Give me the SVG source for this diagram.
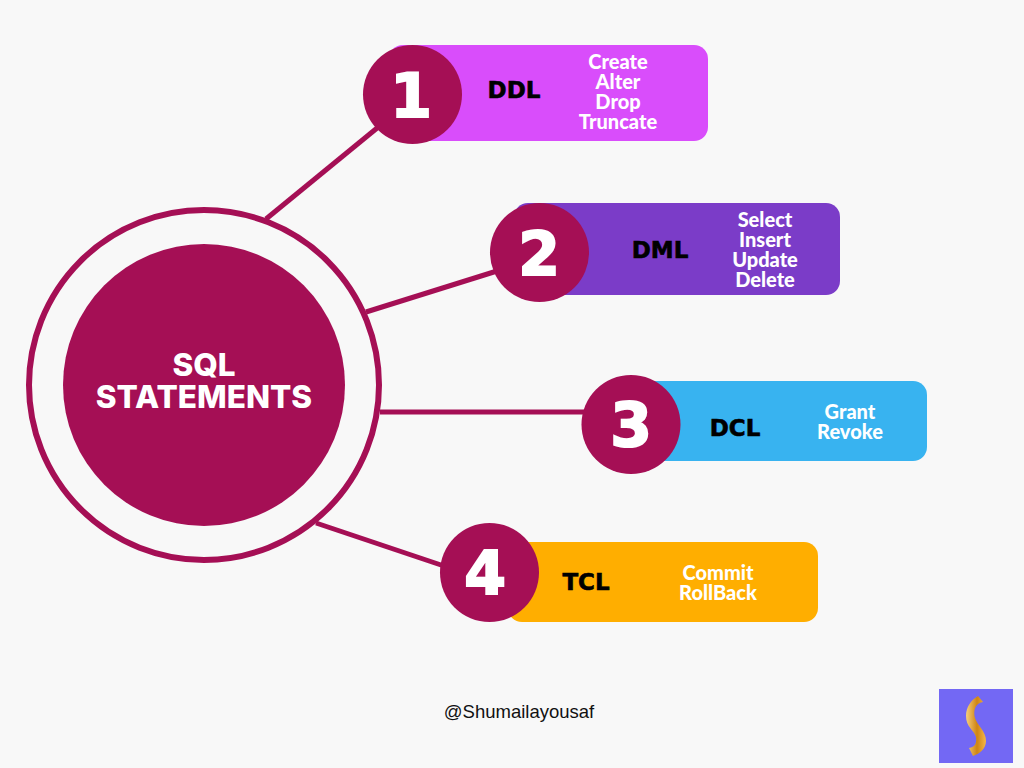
<svg xmlns="http://www.w3.org/2000/svg" width="1024" height="768" viewBox="0 0 1024 768">
<defs>
<linearGradient id="s" x1="0" y1="0" x2="1" y2="0"><stop offset="0" stop-color="#f6cf7c"/><stop offset="0.55" stop-color="#cf8514"/><stop offset="1" stop-color="#f5b748"/></linearGradient>
</defs>
<style>
.c{fill:#a50f55}
.l{stroke:#a50f55;stroke-width:5;fill:none}
.n{font-family:"DejaVu Sans",sans-serif;font-weight:700;font-size:60px;fill:#fff;stroke:#fff;stroke-width:2;text-anchor:middle}
.h{font-family:"DejaVu Sans",sans-serif;font-weight:700;font-size:23px;fill:#000;stroke:#000;stroke-width:.6;text-anchor:middle}
.t{font-family:"Lato","Open Sans",sans-serif;font-weight:900;font-size:20px;fill:#fff;text-anchor:middle}
.m{font-family:"Inter","Liberation Sans",sans-serif;font-weight:800;font-size:31.500px;fill:#fff;text-anchor:middle}
</style>
<rect width="1024" height="768" fill="#f8f8f8"/>
<g id="connectors">
<line class="l" x1="266" y1="219" x2="382" y2="124"/>
<line class="l" x1="366" y1="312" x2="497" y2="271"/>
<line class="l" x1="380" y1="412" x2="585" y2="412"/>
<line class="l" x1="316" y1="523" x2="444" y2="566"/>
</g>
<g id="center">
<circle cx="204" cy="385" r="175" fill="none" stroke="#a50f55" stroke-width="6"/>
<circle class="c" cx="204" cy="385" r="141"/>
<text class="m" x="204" y="376">SQL</text>
<text class="m" x="204" y="408">STATEMENTS</text>
</g>
<g id="node1">
<rect x="389" y="45" width="319" height="96" rx="14" fill="#d94dfb"/>
<circle class="c" cx="412.500" cy="94.500" r="49.500"/>
<text class="n" x="411" y="117">1</text>
<text class="h" x="514" y="98">DDL</text>
<text class="t" x="618" y="69">Create</text><text class="t" x="618" y="89">Alter</text><text class="t" x="618" y="109">Drop</text><text class="t" x="618" y="129">Truncate</text>
</g>
<g id="node2">
<rect x="514" y="203" width="326" height="92" rx="14" fill="#7b3cc8"/>
<circle class="c" cx="539.500" cy="252.500" r="49.500"/>
<text class="n" x="539" y="275">2</text>
<text class="h" x="660" y="258">DML</text>
<text class="t" x="765" y="227">Select</text><text class="t" x="765" y="247">Insert</text><text class="t" x="765" y="267">Update</text><text class="t" x="765" y="287">Delete</text>
</g>
<g id="node3">
<rect x="640" y="381" width="287" height="80" rx="14" fill="#38b3f0"/>
<circle class="c" cx="631" cy="424.500" r="49.500"/>
<text class="n" x="631" y="446">3</text>
<text class="h" x="735" y="436">DCL</text>
<text class="t" x="850" y="419">Grant</text><text class="t" x="850" y="439">Revoke</text>
</g>
<g id="node4">
<rect x="508" y="542" width="310" height="80" rx="14" fill="#ffae00"/>
<circle class="c" cx="489.500" cy="572.500" r="49.500"/>
<text class="n" x="485" y="594">4</text>
<text class="h" x="586" y="590">TCL</text>
<text class="t" x="718" y="580">Commit</text><text class="t" x="718" y="600">RollBack</text>
</g>
<text x="519" y="718" text-anchor="middle" font-family="'Liberation Sans',sans-serif" font-size="18.500" fill="#111">@Shumailayousaf</text>
<g id="logo">
<rect x="939" y="689" width="74" height="74" fill="#7368f4"/>
<path d="M978 696L983 702C975 703 973 711 975 718C977 725 986 731 986 741C986 749 979 754 973 756L969 748C975 747 977 743 976 737C974 730 966 727 966 716C966 707 971 700 978 696Z" fill="url(#s)"/>
</g>
</svg>
